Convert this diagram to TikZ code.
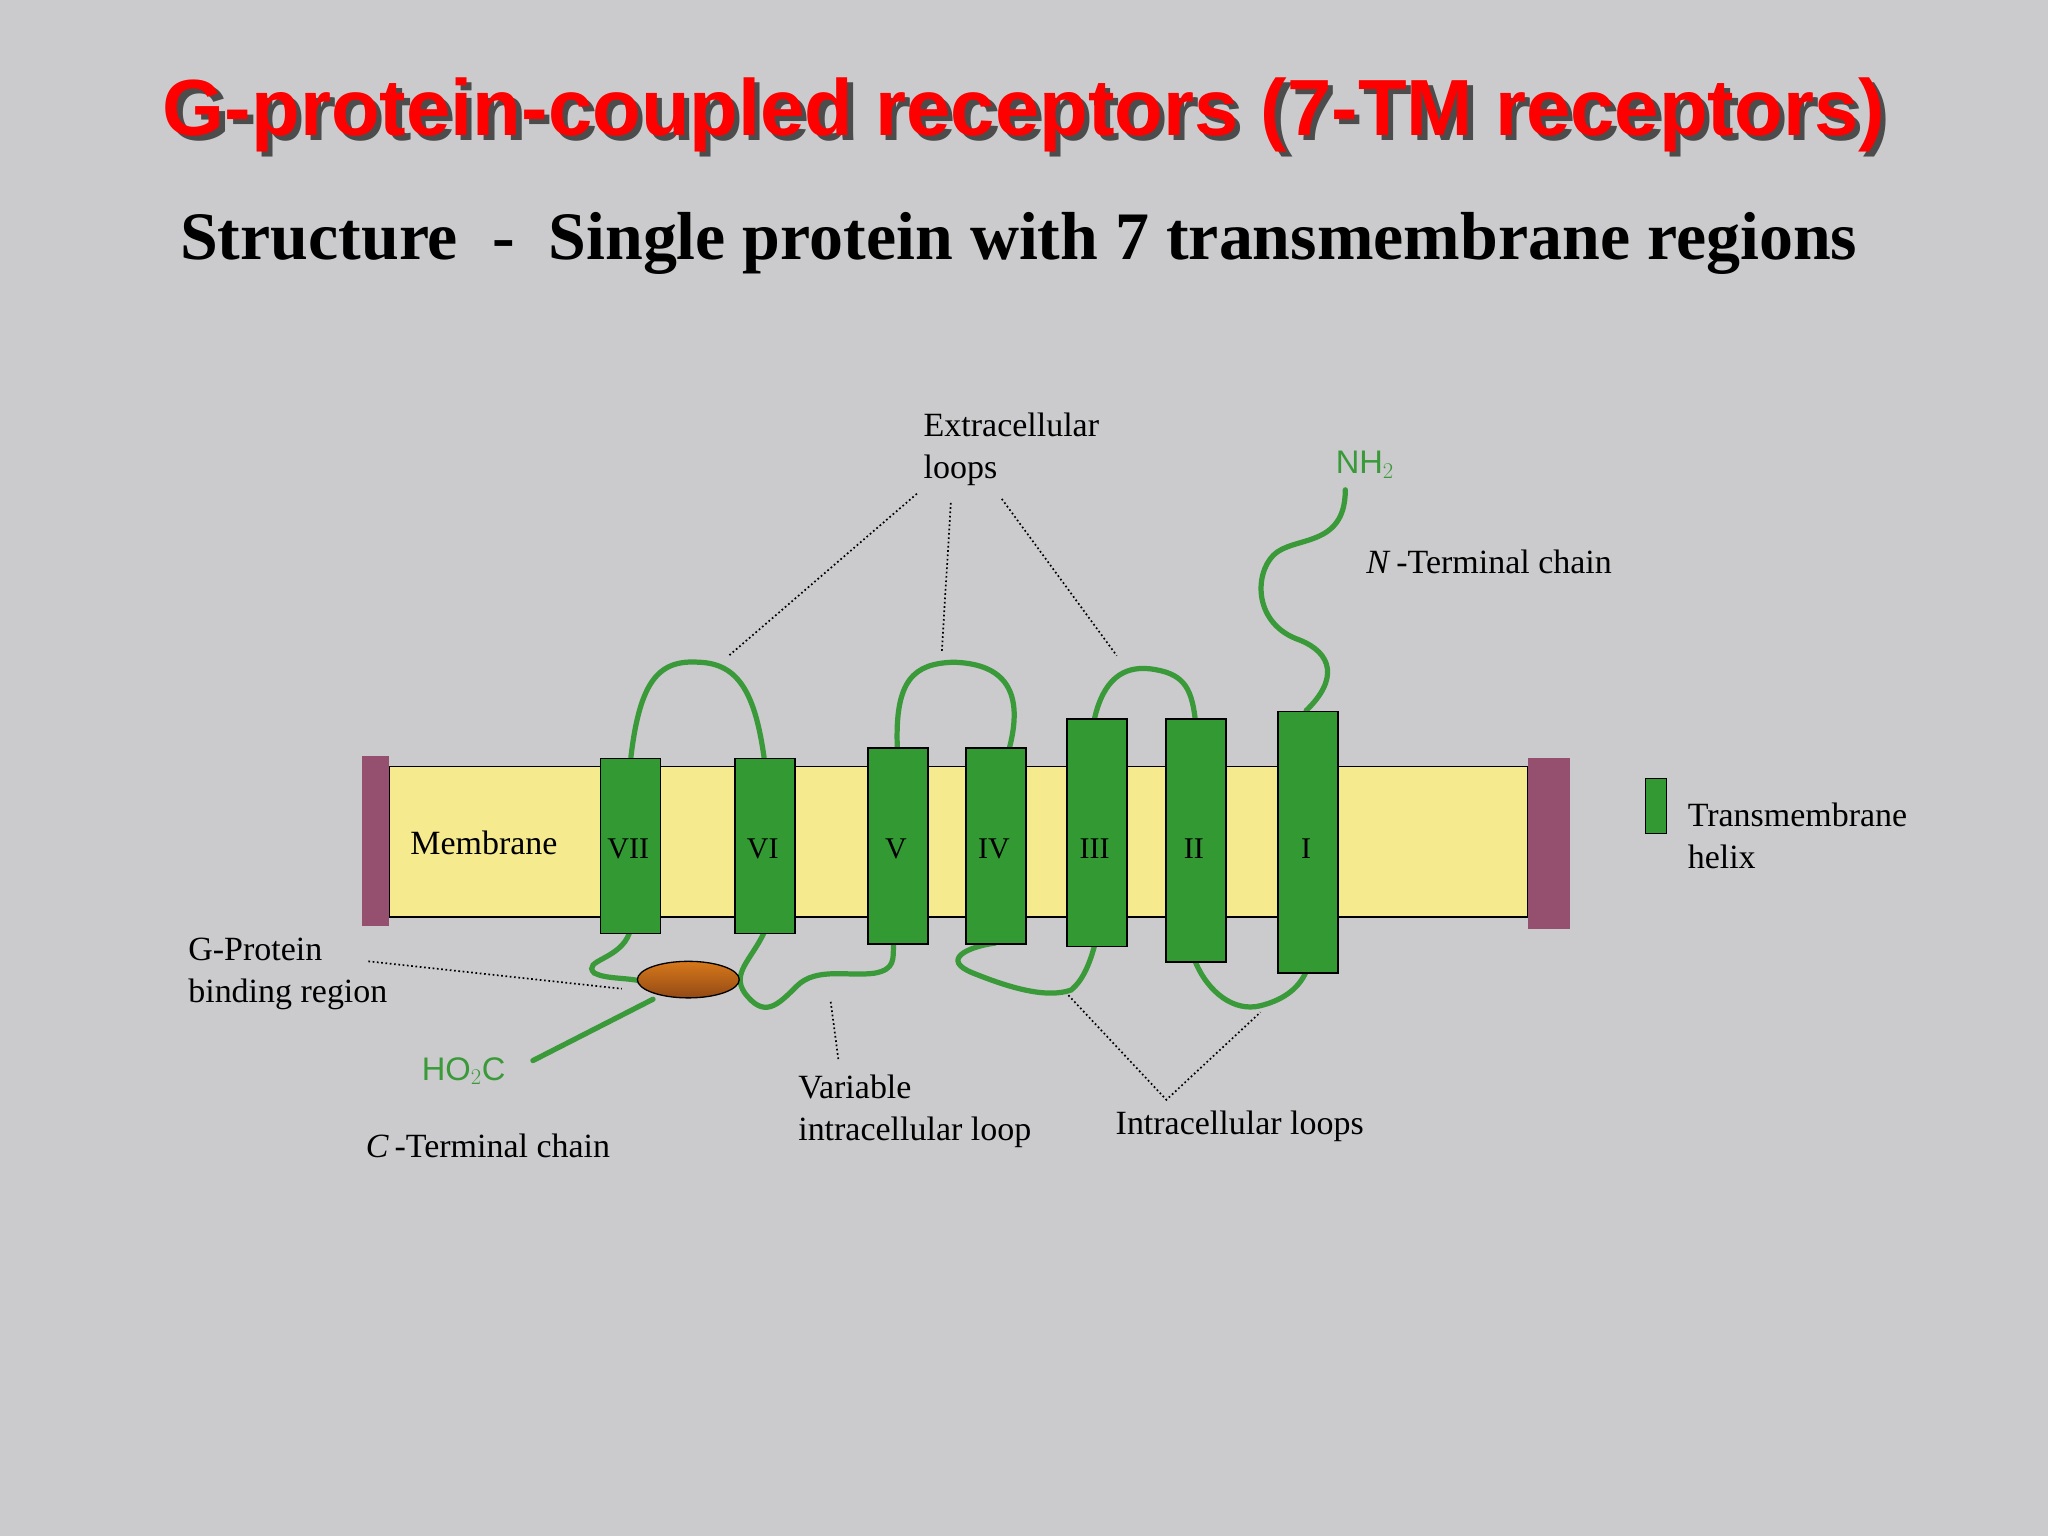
\documentclass[tikz,border=0pt]{standalone}
\usepackage{fontspec}
\usetikzlibrary{shapes.geometric}
\setmainfont{Liberation Serif}
\newfontfamily\arialf{Liberation Sans}
\begin{document}
\begin{tikzpicture}[x=1pt,y=-1pt,
 helix/.style={draw=black,fill=hgreen,line width=1.4pt},
 loop/.style={draw=lgreen,line width=4pt,line cap=round},
 dots/.style={draw=black,line width=1.3pt,dotted},
 lbl/.style={font=\fontsize{26}{32}\selectfont,inner sep=0pt},
 hl/.style={font=\fontsize{23}{24}\selectfont,inner sep=0pt},
 ttl/.style={font=\arialf\bfseries\fontsize{61}{64}\selectfont,inner sep=0pt}]
\definecolor{bg}{HTML}{CBCBCD}
\definecolor{hgreen}{HTML}{339933}
\definecolor{lgreen}{HTML}{3A9A3A}
\definecolor{memb}{HTML}{F5EB8E}
\definecolor{capc}{HTML}{955070}
\definecolor{ora}{HTML}{D2691E}
\fill[bg] (0,0) rectangle (1568,1176);
\useasboundingbox (0,0) rectangle (1568,1176);
\node[ttl,text=black!70] (shadow) at (788,92) {G-protein-coupled receptors (7-TM receptors)};
\node[ttl,text=red] (title) at (784,88) {G-protein-coupled receptors (7-TM receptors)};
\node[font=\bfseries\fontsize{52}{56}\selectfont,inner sep=0pt] (sub) at (780,186) {Structure \ - \ Single protein with 7 transmembrane regions};
% membrane
\node[draw=black,fill=memb,minimum width=872pt,minimum height=115pt,inner sep=0pt,line width=1.2pt] (mem) at (734,644.5) {};
\fill[capc] (277,579) rectangle (298,709);
\fill[capc] (1170,580) rectangle (1202,711);
\node[lbl,anchor=west] (memlbl) at (314,645) {Membrane};
% loops
\draw[loop] (483,580) .. controls (490,520) and (505,505) .. (535,507) .. controls (565,508) and (578,530) .. (585,580);
\draw[loop] (687,572) .. controls (685,520) and (700,508) .. (730,507) .. controls (765,508) and (785,525) .. (773,572);
\draw[loop] (838,550) .. controls (845,520) and (860,510) .. (880,512) .. controls (905,515) and (912,525) .. (915,550);
\draw[loop] (1000,544) .. controls (1025,520) and (1020,500) .. (995,490) .. controls (960,478) and (960,440) .. (975,425) .. controls (990,410) and (1030,420) .. (1030,375);
\draw[loop] (482,714) .. controls (475,735) and (445,735) .. (455,745) .. controls (465,750) and (480,748) .. (495,752);
\draw[loop] (585,714) .. controls (575,735) and (560,745) .. (570,760) .. controls (585,780) and (595,770) .. (610,755) .. controls (625,740) and (650,748) .. (670,745) .. controls (685,742) and (684,735) .. (684,722);
\draw[loop] (762,722) .. controls (740,725) and (720,735) .. (745,745) .. controls (770,755) and (800,765) .. (820,758) .. controls (830,750) and (835,735) .. (838,724);
\draw[loop] (915,736) .. controls (925,760) and (945,775) .. (965,770) .. controls (985,765) and (995,755) .. (1000,744);
\draw[loop] (408,812) -- (500,765);
% helices
\foreach \n/\x/\a/\b/\t in {h7/459/580/714/VII,h6/562/580/714/VI,h5/664/572/722/V,h4/739/572/722/IV,h3/816/550/724/III,h2/892/550/736/II,h1/978/544/744/I}{
 \node[helix,minimum width=46pt,minimum height={\b-\a},inner sep=0pt,anchor=north west] (\n) at (\x,\a) {};
 \node[hl] (\n l) at ({\x+22},650) {\t};
}
\node[draw=black,line width=1pt,ellipse,minimum width=78pt,minimum height=28pt,inner sep=0pt,top color=ora!90!yellow,bottom color=ora!70!black] (gp) at (527,750) {};
% legend
\node[helix,minimum width=16pt,minimum height=42pt,inner sep=0pt,line width=1pt] (leg) at (1268,617) {};
\node[lbl,anchor=west,align=left] (legl) at (1292,640) {Transmembrane\\helix};
% labels
\node[lbl,align=left,anchor=north west] (ext) at (707,316) {Extracellular\\loops};
\node[font=\arialf\fontsize{25}{26}\selectfont,text=lgreen,inner sep=0pt] (nh2) at (1045,356) {NH$_2$};
\node[lbl,anchor=west] (nterm) at (1046,430) {\textit{N}\,-Terminal chain};
\node[lbl,align=left,anchor=north west] (gpl) at (144,718) {G-Protein\\binding region};
\node[font=\arialf\fontsize{25}{26}\selectfont,text=lgreen,inner sep=0pt] (ho) at (355,820) {HO$_2$C};
\node[lbl,anchor=west] (cterm) at (280,877) {\textit{C}\,-Terminal chain};
\node[lbl,align=left,anchor=north west] (var) at (611,823) {Variable\\intracellular loop};
\node[lbl,anchor=west] (intra) at (854,862) {Intracellular loops};
% dotted
\coordinate (e1) at (558,502); \coordinate (e2) at (721,500); \coordinate (e3) at (855,502);
\coordinate (s1) at (702,378); \coordinate (s2) at (728,385); \coordinate (s3) at (767,382);
\draw[dots] (s1) -- (e1); \draw[dots] (s2) -- (e2); \draw[dots] (s3) -- (e3);
\coordinate (g1) at (282,736); \coordinate (g2) at (476,757);
\draw[dots] (g1) -- (g2);
\coordinate (v1) at (636,767); \coordinate (v2) at (642,812);
\draw[dots] (v1) -- (v2);
\coordinate (i1) at (818,762); \coordinate (i2) at (893,842); \coordinate (i3) at (965,775);
\draw[dots] (i1) -- (i2) -- (i3);
\end{tikzpicture}
\end{document}
